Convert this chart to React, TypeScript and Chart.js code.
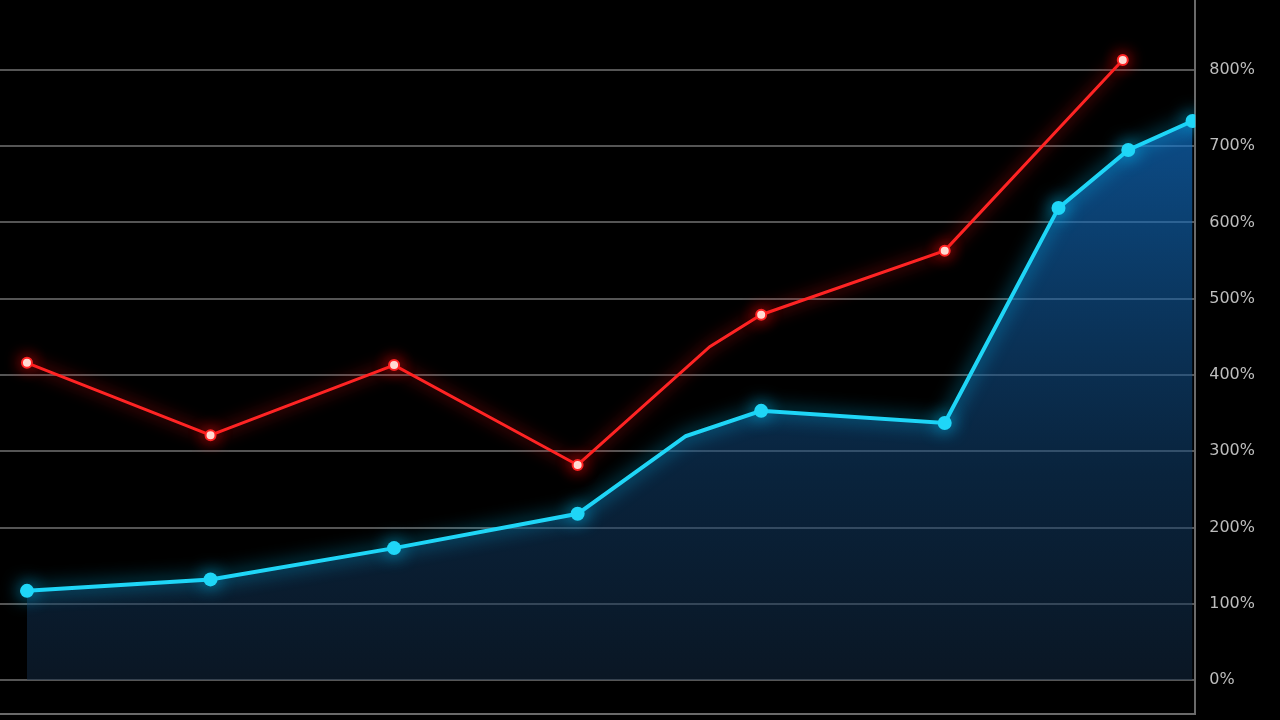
import React, { useEffect, useRef } from "react";
import { Chart, registerables } from "chart.js";

Chart.register(...registerables);

// x positions are category indices (0..6), with a few intermediate points
const redX = [0, 1, 2, 3, 3.72, 4, 5, 5.97];
const redY = [416, 321, 413, 282, 437, 479, 563, 813];

const cyanX = [0, 1, 2, 3, 3.59, 4, 5, 5.62, 6, 6.35];
const cyanY = [117, 132, 173, 218, 320, 353, 337, 619, 695, 733];

const yTicks = [0, 100, 200, 300, 400, 500, 600, 700, 800, 900];

const glowPlugin = {
  id: "glow",
  beforeDatasetDraw(chart: any, args: any) {
    const ds = chart.data.datasets[args.index];
    const c = chart.ctx;
    c.save();
    c.shadowColor = ds.glowColor;
    c.shadowBlur = ds.glowBlur;
  },
  afterDatasetDraw(chart: any) {
    chart.ctx.restore();
  },
};

const bgPlugin = {
  id: "bg",
  beforeDraw(chart: any) {
    const c = chart.ctx;
    c.save();
    c.fillStyle = "#000";
    c.fillRect(0, 0, chart.width, chart.height);
    c.restore();
  },
};

export default function App() {
  const ref = useRef<HTMLCanvasElement | null>(null);

  useEffect(() => {
    document.body.style.margin = "0";
    document.body.style.background = "#000";
    document.body.style.overflow = "hidden";
    const canvas = ref.current;
    if (!canvas) return;

    const chart = new Chart(canvas, {
      type: "line",
      data: {
        datasets: [
          {
            label: "Red",
            data: redX.map((x, i) => ({ x, y: redY[i] })),
            borderColor: "#ff2424",
            borderWidth: 3,
            pointRadius: [5, 5, 5, 5, 0, 5, 5, 5],
            pointBackgroundColor: "#fff3ea",
            pointBorderColor: "#ff2424",
            pointBorderWidth: 2,
            fill: false,
            tension: 0,
            glowColor: "rgba(255,20,20,0.9)",
            glowBlur: 16,
            order: 1,
          } as any,
          {
            label: "Cyan",
            data: cyanX.map((x, i) => ({ x, y: cyanY[i] })),
            borderColor: "#1fd6f7",
            borderWidth: 4,
            pointRadius: [7, 7, 7, 7, 0, 7, 7, 7, 7, 7],
            pointBackgroundColor: "#1fd6f7",
            pointBorderColor: "#1fd6f7",
            pointBorderWidth: 0,
            fill: "origin",
            backgroundColor: (ctx: any) => {
              const ch = ctx.chart;
              const area = ch.chartArea;
              if (!area) return "rgba(10,60,110,0.6)";
              const zero = ch.scales.y.getPixelForValue(0);
              const g = ch.ctx.createLinearGradient(0, area.top, 0, zero);
              g.addColorStop(0, "rgba(20,130,235,0.72)");
              g.addColorStop(0.35, "rgba(18,105,185,0.6)");
              g.addColorStop(0.7, "rgba(18,70,120,0.5)");
              g.addColorStop(1, "rgba(20,45,72,0.5)");
              return g;
            },
            tension: 0,
            glowColor: "rgba(0,200,255,0.9)",
            glowBlur: 18,
            order: 2,
          } as any,
        ],
      },
      options: {
        animation: false,
        responsive: true,
        maintainAspectRatio: false,
        layout: { padding: 0 },
        plugins: {
          legend: { display: false },
          tooltip: { enabled: false },
        },
        scales: {
          x: {
            type: "linear",
            min: -0.147,
            max: 6.365,
            ticks: { display: false },
            grid: { display: false },
            border: { display: true, color: "#6a6a6a", width: 2 },
          },
          y: {
            position: "right",
            min: -45,
            max: 900,
            afterBuildTicks: (scale: any) => {
              scale.ticks = yTicks.map((v) => ({ value: v }));
            },
            ticks: {
              color: "#bdbdbd",
              padding: 14,
              font: { family: "DejaVu Sans", size: 16 },
              callback: (v: any) => `${v}%`,
            },
            grid: {
              color: "#555555",
              lineWidth: 2,
              drawTicks: false,
            },
            border: { display: true, color: "#6a6a6a", width: 2 },
          },
        },
      },
      plugins: [bgPlugin, glowPlugin],
    } as any);

    return () => chart.destroy();
  }, []);

  return (
    <div
      style={{
        position: "absolute",
        top: -30,
        left: -7,
        width: 1276,
        height: 768,
        background: "#000",
      }}
    >
      <canvas ref={ref} />
    </div>
  );
}
